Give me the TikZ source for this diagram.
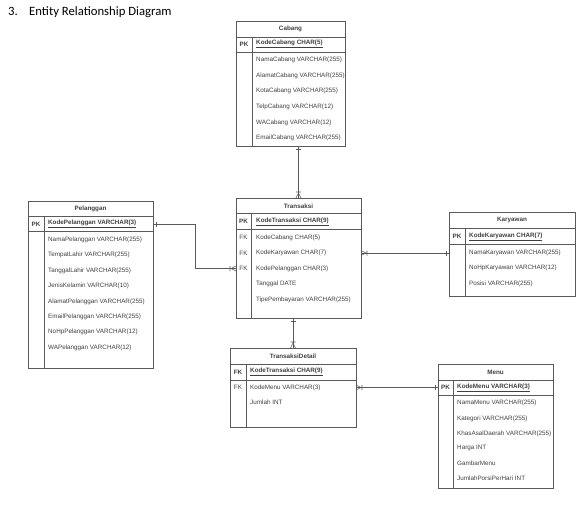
\documentclass[tikz,border=0pt]{standalone}
\usepackage{fontspec}
\setmainfont{Liberation Sans}
\newfontfamily\titlefont{Carlito}
\usetikzlibrary{fit,calc}
\definecolor{linec}{HTML}{5A5A5A}
\definecolor{textc}{HTML}{404040}
\tikzset{
  tblbox/.style={draw=linec, line width=0.8pt, inner sep=0pt, outer sep=0pt, rectangle},
  tblline/.style={draw=linec, line width=0.8pt},
  pkline/.style={draw=linec, line width=0.9pt},
  rowtxt/.style={anchor=west, inner sep=0pt, text=textc, font=\fontsize{6.3}{7}\selectfont},
  pktxt/.style={anchor=west, inner sep=0pt, text=black!75, font=\fontsize{6.3}{7}\selectfont\bfseries},
  keytxt/.style={inner sep=0pt, text=black!75, font=\fontsize{6.3}{7}\selectfont\bfseries},
  fktxt/.style={inner sep=0pt, text=textc, font=\fontsize{6.3}{7}\selectfont},
  hdr/.style={inner sep=0pt, text=black!75, font=\fontsize{6.3}{7}\selectfont\bfseries},
  conn/.style={draw=linec, line width=0.8pt},
  ermark/.style={draw=linec, line width=0.6pt},
  one/.pic={\draw[ermark] (3,-2.5) -- (3,2.5);},
  many/.pic={\draw[ermark] (5,0) -- (0,2.5) (5,0) -- (0,-2.5) (6,-2.5) -- (6,2.5);}
}
\newcommand\erbox[8]{%
  \node[tblbox, fit={(#2,#3) (#4,#5)}] (#1) {};
  \draw[tblline] (#2,#6) -- (#4,#6);
  \draw[pkline] (#2,#7) -- (#4,#7);
  \draw[tblline] (#8,#6) -- (#8,#5);
}
\begin{document}
\begin{tikzpicture}[x=1pt,y=-1pt]
\fill[white] (0,0) rectangle (580,530);
\useasboundingbox (0,0) rectangle (580,530);

\node[anchor=west, inner sep=0pt, font=\titlefont\fontsize{12.7}{14}\selectfont] (title) at (8,12) {3.\hspace{11.4pt}Entity Relationship Diagram};

% Cabang
\erbox{cab}{236}{21}{345}{146}{37}{52}{252}
\node[hdr] (cab-h) at (290.5,29) {Cabang};
\node[keytxt] (cab-k) at (244,44) {PK};
\node[pktxt] (cab-pk) at (256,44) {\underline{KodeCabang CHAR(5)}};
\node[rowtxt] (cab-r1) at (256,60) {NamaCabang VARCHAR(255)};
\node[rowtxt] (cab-r2) at (256,75.6) {AlamatCabang VARCHAR(255)};
\node[rowtxt] (cab-r3) at (256,91.2) {KotaCabang VARCHAR(255)};
\node[rowtxt] (cab-r4) at (256,106.8) {TelpCabang VARCHAR(12)};
\node[rowtxt] (cab-r5) at (256,122.4) {WACabang VARCHAR(12)};
\node[rowtxt] (cab-r6) at (256,138) {EmailCabang VARCHAR(255)};

% Transaksi
\erbox{tr}{236}{198}{361}{318}{213}{229}{251}
\node[hdr] (tr-h) at (298.5,206) {Transaksi};
\node[keytxt] (tr-k) at (243.5,221.5) {PK};
\node[pktxt] (tr-pk) at (256,221.5) {\underline{KodeTransaksi CHAR(9)}};
\node[fktxt] (tr-k1) at (243.5,237.5) {FK};
\node[fktxt] (tr-k2) at (243.5,253) {FK};
\node[fktxt] (tr-k3) at (243.5,268.5) {FK};
\node[rowtxt] (tr-r1) at (256,237.5) {KodeCabang CHAR(5)};
\node[rowtxt] (tr-r2) at (256,253) {KodeKaryawan CHAR(7)};
\node[rowtxt] (tr-r3) at (256,268.5) {KodePelanggan CHAR(3)};
\node[rowtxt] (tr-r4) at (256,284) {Tanggal DATE};
\node[rowtxt] (tr-r5) at (256,299.5) {TipePembayaran VARCHAR(255)};

% Pelanggan
\erbox{pel}{28}{201}{153}{368}{216}{231}{44}
\node[hdr] (pel-h) at (90.5,209) {Pelanggan};
\node[keytxt] (pel-k) at (36,224) {PK};
\node[pktxt] (pel-pk) at (48,224) {\underline{KodePelanggan VARCHAR(3)}};
\node[rowtxt] (pel-r1) at (48,240) {NamaPelanggan VARCHAR(255)};
\node[rowtxt] (pel-r2) at (48,255.3) {TempatLahir VARCHAR(255)};
\node[rowtxt] (pel-r3) at (48,270.6) {TanggalLahir VARCHAR(255)};
\node[rowtxt] (pel-r4) at (48,286) {JenisKelamin VARCHAR(10)};
\node[rowtxt] (pel-r5) at (48,301.5) {AlamatPelanggan VARCHAR(255)};
\node[rowtxt] (pel-r6) at (48,317) {EmailPelanggan VARCHAR(255)};
\node[rowtxt] (pel-r7) at (48,332.3) {NoHpPelanggan VARCHAR(12)};
\node[rowtxt] (pel-r8) at (48,347.6) {WAPelanggan VARCHAR(12)};

% Karyawan
\erbox{kar}{449}{212}{575}{296}{228}{244}{465}
\node[hdr] (kar-h) at (512,220) {Karyawan};
\node[keytxt] (kar-k) at (457,236.5) {PK};
\node[pktxt] (kar-pk) at (469,236.5) {\underline{KodeKaryawan CHAR(7)}};
\node[rowtxt] (kar-r1) at (469,252.5) {NamaKaryawan VARCHAR(255)};
\node[rowtxt] (kar-r2) at (469,268) {NoHpKaryawan VARCHAR(12)};
\node[rowtxt] (kar-r3) at (469,283.5) {Posisi VARCHAR(255)};

% TransaksiDetail
\erbox{td}{230}{348}{356}{427}{364}{380}{246}
\node[hdr] (td-h) at (293,356) {TransaksiDetail};
\node[keytxt] (td-k) at (238,372) {FK};
\node[pktxt] (td-pk) at (250,372) {\underline{KodeTransaksi CHAR(9)}};
\node[fktxt] (td-k1) at (238,387.5) {FK};
\node[rowtxt] (td-r1) at (250,387.5) {KodeMenu VARCHAR(3)};
\node[rowtxt] (td-r2) at (250,402.5) {Jumlah INT};

% Menu
\erbox{menu}{438}{364}{553}{488}{380}{395}{453}
\node[hdr] (menu-h) at (495.5,372) {Menu};
\node[keytxt] (menu-k) at (445.5,387.5) {PK};
\node[pktxt] (menu-pk) at (457,387.5) {\underline{KodeMenu VARCHAR(3)}};
\node[rowtxt] (menu-r1) at (457,403) {NamaMenu VARCHAR(255)};
\node[rowtxt] (menu-r2) at (457,418.5) {Kategori VARCHAR(255)};
\node[rowtxt] (menu-r3) at (457,434) {KhasAsalDaerah VARCHAR(255)};
\node[rowtxt] (menu-r4) at (457,447.5) {Harga INT};
\node[rowtxt] (menu-r5) at (457,463) {GambarMenu};
\node[rowtxt] (menu-r6) at (457,478.5) {JumlahPorsiPerHari INT};

% Connectors
\draw[conn] (cab.south -| tr.north) -- (tr.north);
\pic[rotate=-90] at (cab.south -| tr.north) {one};
\pic[rotate=90] at (tr.north) {many};

\draw[conn] (pel.east |- pel-pk.west) -- ++(42,0) |- (tr.west |- tr-r3.west);
\pic at (pel.east |- pel-pk.west) {one};
\pic[rotate=180] at (tr.west |- tr-r3.west) {many};

\draw[conn] (tr.east |- tr-r2.west) -- (kar.west |- tr-r2.west);
\pic at (tr.east |- tr-r2.west) {many};
\pic[rotate=180] at (kar.west |- tr-r2.west) {one};

\draw[conn] (td.north |- tr.south) -- (td.north);
\pic[rotate=-90] at (td.north |- tr.south) {one};
\pic[rotate=90] at (td.north) {many};

\draw[conn] (td.east |- td-r1.west) -- (menu.west |- td-r1.west);
\pic at (td.east |- td-r1.west) {many};
\pic[rotate=180] at (menu.west |- td-r1.west) {one};
\end{tikzpicture}
\end{document}
